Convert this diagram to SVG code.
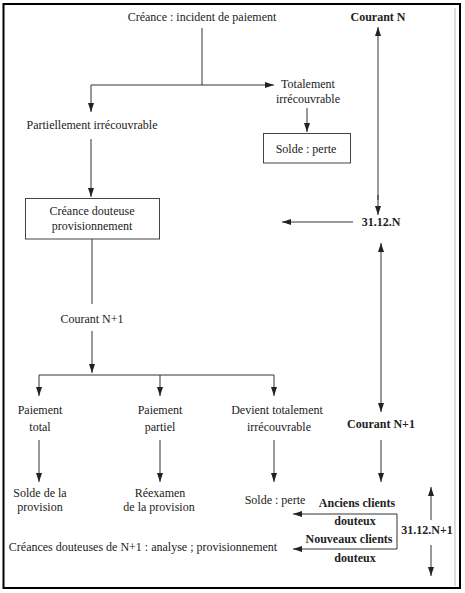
<svg xmlns="http://www.w3.org/2000/svg" width="465" height="593" viewBox="0 0 465 593">
<defs>
<marker id="ah" markerUnits="userSpaceOnUse" markerWidth="9" markerHeight="7" refX="9" refY="3.5" orient="auto">
<path d="M0,0.5 L9,3.5 L0,6.5 z" fill="#222"/>
</marker>
<style>
text{font-family:'Liberation Serif',serif;font-size:12px;fill:#222;text-anchor:middle}
.b{font-weight:bold}
.c line,.c path{stroke:#333;stroke-width:1;fill:none}
.a{marker-end:url(#ah)}
rect.n{fill:#fff;stroke:#444;stroke-width:1}
</style>
</defs>
<rect x="0" y="0" width="465" height="593" fill="#fff"/>
<rect x="3.5" y="4" width="456.5" height="584" fill="none" stroke="#000" stroke-width="2"/>
<line x1="455" y1="8" x2="455" y2="586" stroke="#ddd" stroke-width="2"/>

<g class="c" id="connectors">
<line x1="202" y1="28" x2="202" y2="85"/>
<path class="a" d="M202,85 H91 V112"/>
<line class="a" x1="202" y1="85" x2="274" y2="85"/>
<line class="a" x1="307" y1="108" x2="307" y2="132"/>
<line class="a" x1="91" y1="139" x2="91" y2="197"/>
<line class="a" x1="378" y1="200" x2="378" y2="27"/>
<line class="a" x1="378" y1="195" x2="378" y2="215"/>
<line class="a" x1="353" y1="222" x2="282" y2="222"/>
<line class="a" x1="381" y1="300" x2="381" y2="243"/>
<line class="a" x1="381" y1="300" x2="381" y2="412"/>
<line x1="92" y1="239" x2="92" y2="304"/>
<line class="a" x1="92" y1="331" x2="92" y2="373"/>
<line x1="39" y1="375" x2="274" y2="375"/>
<line class="a" x1="39" y1="375" x2="39" y2="396"/>
<line class="a" x1="160" y1="375" x2="160" y2="396"/>
<line class="a" x1="274" y1="375" x2="274" y2="396"/>
<line class="a" x1="39" y1="440" x2="39" y2="482"/>
<line class="a" x1="160" y1="440" x2="160" y2="482"/>
<line class="a" x1="274" y1="440" x2="274" y2="482"/>
<line class="a" x1="381" y1="440" x2="381" y2="482"/>
<path class="a" d="M397,549 V514 H293"/>
<line class="a" x1="397" y1="549" x2="293" y2="549"/>
<line class="a" x1="431" y1="520" x2="431" y2="487"/>
<line class="a" x1="431" y1="545" x2="431" y2="576"/>
</g>

<g id="creance"><text x="202" y="21">Créance : incident de paiement</text></g>
<g id="courantN"><text class="b" x="378" y="21">Courant N</text></g>
<g id="totalement"><text x="308" y="88">Totalement</text><text x="308" y="103">irrécouvrable</text></g>
<g id="partiellement"><text x="92" y="129">Partiellement irrécouvrable</text></g>
<g id="soldePerte1"><rect class="n" x="263.5" y="133.5" width="87" height="29.5"/><text x="306" y="153">Solde : perte</text></g>
<g id="douteuse"><rect class="n" x="25.5" y="198.5" width="134" height="40.5"/><text x="92" y="215">Créance douteuse</text><text x="92" y="230">provisionnement</text></g>
<g id="d3112N"><text class="b" x="381" y="226">31.12.N</text></g>
<g id="courantN1a"><text x="92" y="323">Courant N+1</text></g>
<g id="paiementTotal"><text x="40" y="414">Paiement</text><text x="40" y="431">total</text></g>
<g id="paiementPartiel"><text x="160" y="414">Paiement</text><text x="160" y="431">partiel</text></g>
<g id="devient"><text x="277" y="414">Devient totalement</text><text x="279" y="431">irrécouvrable</text></g>
<g id="courantN1b"><text class="b" x="381" y="428">Courant N+1</text></g>
<g id="soldeProvision"><text x="40" y="497">Solde de la</text><text x="40" y="511">provision</text></g>
<g id="reexamen"><text x="160" y="497">Réexamen</text><text x="159" y="511">de la provision</text></g>
<g id="soldePerte2"><text x="275" y="504">Solde : perte</text></g>
<g id="anciens"><text class="b" x="357" y="507">Anciens clients</text><text class="b" x="355" y="525">douteux</text></g>
<g id="nouveaux"><text class="b" x="349" y="543">Nouveaux clients</text><text class="b" x="355" y="562">douteux</text></g>
<g id="creancesN1"><text x="143" y="551">Créances douteuses de N+1 : analyse ; provisionnement</text></g>
<g id="d3112N1"><text class="b" x="427" y="534">31.12.N+1</text></g>
</svg>
